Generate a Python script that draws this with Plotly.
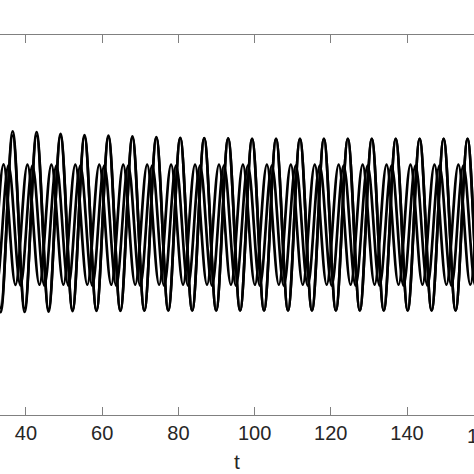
import plotly.graph_objects as go

# ---- data (extrema of each oscillating trace) ----
# large-amplitude trace (times of alternating troughs/peaks, starting with a trough)
t_large = [27.09, 30.23, 33.37, 36.51, 39.65, 42.79, 45.93, 49.08, 52.22, 55.36,
           58.50, 61.64, 64.78, 67.93, 71.07, 74.21, 77.35, 80.49, 83.63, 86.78,
           89.92, 93.06, 96.20, 99.34, 102.48, 105.63, 108.77, 111.91, 115.05, 118.19,
           121.33, 124.47, 127.61, 130.76, 133.90, 137.04, 140.18, 143.32, 146.46, 149.61,
           152.75, 155.89, 159.03, 162.17]
y_large = [-0.920, 0.995, -0.918, 0.987, -0.916, 0.977, -0.912, 0.959, -0.908, 0.947,
           -0.905, 0.942, -0.903, 0.932, -0.901, 0.924, -0.900, 0.917, -0.900, 0.914,
           -0.900, 0.911, -0.900, 0.906, -0.900, 0.906, -0.900, 0.906, -0.900, 0.906,
           -0.900, 0.906, -0.900, 0.906, -0.900, 0.906, -0.900, 0.906, -0.900, 0.906,
           -0.900, 0.906, -0.900, 0.906]
# companion of the large trace (slightly smaller early on, converging)
y_large2 = [-0.870, 0.935, -0.875, 0.942, -0.880, 0.942, -0.888, 0.935, -0.894, 0.928,
            -0.898, 0.924, -0.900, 0.920, -0.900, 0.917, -0.900, 0.914, -0.900, 0.912,
            -0.900, 0.910, -0.900, 0.906, -0.900, 0.906, -0.900, 0.906, -0.900, 0.906,
            -0.900, 0.906, -0.900, 0.906, -0.900, 0.906, -0.900, 0.906, -0.900, 0.906,
            -0.900, 0.906, -0.900, 0.906]

# small trace A (starts with a peak)
t_small_a = [27.82, 30.96, 34.10, 37.24, 40.38, 43.52, 46.67, 49.81, 52.95, 56.09,
             59.23, 62.37, 65.52, 68.66, 71.80, 74.94, 78.08, 81.22, 84.37, 87.51,
             90.65, 93.79, 96.93, 100.07, 103.22, 106.36, 109.50, 112.64, 115.78, 118.92,
             122.06, 125.20, 128.35, 131.49, 134.63, 137.77, 140.91, 144.05, 147.20, 150.34,
             153.48, 156.62, 159.76, 162.90]
y_small_a = [0.640, -0.632, 0.638, -0.630, 0.636, -0.629, 0.635, -0.629, 0.635, -0.629,
             0.635, -0.629, 0.635, -0.629, 0.635, -0.629, 0.635, -0.629, 0.635, -0.629,
             0.635, -0.629, 0.635, -0.629, 0.635, -0.629, 0.635, -0.629, 0.635, -0.629,
             0.635, -0.629, 0.635, -0.629, 0.635, -0.629, 0.635, -0.629, 0.635, -0.629,
             0.635, -0.629, 0.635, -0.629]

# small trace B (starts with a trough)
t_small_b = [25.99, 29.13, 32.27, 35.41, 38.55, 41.69, 44.83, 47.98, 51.12, 54.26,
             57.40, 60.54, 63.68, 66.83, 69.97, 73.11, 76.25, 79.39, 82.53, 85.68,
             88.82, 91.96, 95.10, 98.24, 101.38, 104.53, 107.67, 110.81, 113.95, 117.09,
             120.23, 123.37, 126.51, 129.66, 132.80, 135.94, 139.08, 142.22, 145.36, 148.51,
             151.65, 154.79, 157.93, 161.07]
y_small_b = [-0.640, 0.630, -0.638, 0.628, -0.637, 0.626, -0.637, 0.626, -0.637, 0.626,
             -0.637, 0.626, -0.637, 0.626, -0.637, 0.626, -0.637, 0.626, -0.637, 0.626,
             -0.637, 0.626, -0.637, 0.626, -0.637, 0.626, -0.637, 0.626, -0.637, 0.626,
             -0.637, 0.626, -0.637, 0.626, -0.637, 0.626, -0.637, 0.626, -0.637, 0.626,
             -0.637, 0.626, -0.637, 0.626]

x_ticks = [40, 60, 80, 100, 120, 140]
x_range = [33.18, 157.58]
y_range = [-2, 2]
x_title = "t"
clipped_tick = 160

fig = go.Figure()
line_style = dict(color="black", width=2.7, shape="spline", smoothing=1)
for tt, yy in [(t_large, y_large2), (t_large, y_large), (t_small_a, y_small_a), (t_small_b, y_small_b)]:
    fig.add_trace(go.Scatter(x=tt, y=yy, mode="lines", line=line_style,
                             showlegend=False, hoverinfo="skip"))

axis_col = "#808080"
fig.update_layout(
    width=474, height=474,
    margin=dict(l=0, r=0, t=35, b=59, autoexpand=False),
    paper_bgcolor="white", plot_bgcolor="white",
    font=dict(family="Liberation Sans, Arial, sans-serif", size=20, color="#262626"),
    xaxis=dict(range=x_range, tickvals=x_ticks, ticks="inside", ticklen=8,
               tickwidth=1, tickcolor=axis_col, showline=True, linecolor=axis_col,
               linewidth=1, mirror="ticks", showgrid=False, zeroline=False,
               automargin=False,
               title=dict(text=x_title, standoff=11,
                          font=dict(size=21, color="#262626")),
               tickfont=dict(size=20, color="#262626")),
    yaxis=dict(range=y_range, showline=False, showticklabels=False, ticks="",
               showgrid=False, zeroline=False, automargin=False),
)
# clipped "160" tick label at the right edge of the picture (placed in paper units
# derived from the axis range so it sits where the axis would put it)
frac = (clipped_tick - x_range[0]) / (x_range[1] - x_range[0])
fig.add_annotation(x=frac, y=0, xref="paper", yref="paper", text=str(clipped_tick),
                   showarrow=False, xanchor="center", yanchor="top", yshift=-8,
                   font=dict(size=20, color="#262626"))

fig.write_html("out.html", config={"displayModeBar": False},
               post_script="document.body.style.margin='0px';document.body.style.overflow='hidden';")
